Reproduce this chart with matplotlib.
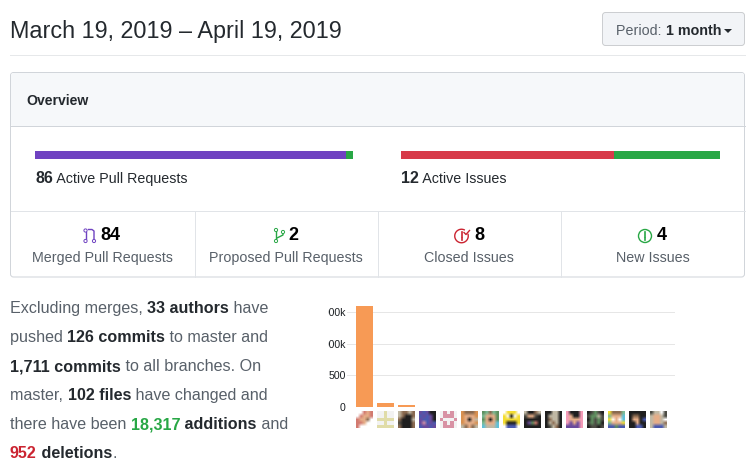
import matplotlib
matplotlib.use("Agg")
import matplotlib.pyplot as plt
from matplotlib.patches import FancyBboxPatch, Circle, Rectangle, Arc, Polygon
from matplotlib.colors import to_rgb
from matplotlib.transforms import Bbox
import numpy as np

W, H = 756, 469
plt.rcParams['font.family'] = ['Liberation Sans', 'DejaVu Sans']

# ---- data ----
title = "March 19, 2019 – April 19, 2019"
pr_segments = [84, 2]
issue_segments = [8, 4]
stat_values = ["84", "2", "8", "4"]
stat_labels = ["Merged Pull Requests", "Proposed Pull Requests", "Closed Issues", "New Issues"]
author_commits = [1595, 53, 22, 0, 0, 0, 0, 0, 0, 0, 0, 0, 0, 0, 0]
y_ticks = [0, 500, 1000, 1500]
y_tick_labels = ["0", "500", "1000k", "1000k"]
summary_lines = [
    [("Excluding merges, ", "n"), ("33 authors", "b"), (" have", "n")],
    [("pushed ", "n"), ("126 commits", "b"), (" to master and", "n")],
    [("1,711 commits", "b"), (" to all branches. On", "n")],
    [("master, ", "n"), ("102 files", "b"), (" have changed and", "n")],
    [("there have been ", "n"), ("18,317", "g"), (" additions", "b"), (" and", "n")],
    [("952", "r"), (" deletions", "b"), (".", "n")],
]
palette = dict(w="#f2f2f2", k="#1f1f1f", b="#8a6a50", s="#e6ae88", r="#d27a70", y="#f3dc30",
               p="#d892a4", l="#e0dca8", g="#5f9060", u="#4a5ab0", v="#6a4a9c", t="#7cbc96",
               m="#f49cb8", d="#4c4c44", n="#c0b8a4", c="#60c0d8", o="#d89050", W="#ffffff")
avatars = [
    ["WWrsr", "Wrssr", "rssbW", "rrsWW", "rWWWW"],
    ["wwlww", "wwlww", "lllll", "wwlww", "lllll"],
    ["nbbnb", "nbkkb", "bkkkn", "dkkkb", "bkkkb"],
    ["vuvkk", "uvuvk", "vuuvk", "vpuvu", "uvvuv"],
    ["wpwpw", "wpppw", "pwwwp", "wpwpw", "wpppw"],
    ["obbbo", "ossso", "osksn", "ossso", "nbsbn"],
    ["gtbtg", "tsssg", "gsksg", "tsssc", "cnnnc"],
    ["WyyyW", "yWkWy", "yyyyy", "ykkky", "WuuuW"],
    ["nkkbn", "dssdk", "kkkkk", "kvgrk", "kkkkk"],
    ["kknnk", "knnnk", "kbnnk", "knbnk", "kdnbk"],
    ["mkkkm", "mskkm", "msssm", "mvsvm", "vvvvm"],
    ["kdgdk", "dggnd", "kgdgd", "dgdgk", "kddkd"],
    ["ybbbt", "tsssc", "yWsWc", "tsssy", "uuguu"],
    ["kkkkk", "kbbkk", "kssku", "kkskk", "kkuuk"],
    ["dnnWd", "nssnd", "nssnW", "nssnb", "nuuun"],
]

INK = "#24292e"
GREY = "#586069"
BORDER = "#d1d5da"
LIGHT = "#e1e4e8"
PURPLE = "#6f42c1"
GREEN = "#28a745"
RED = "#cb2431"
BARRED = "#d73a49"
ORANGE = "#f79a55"
LW = 0.72  # one pixel, in points

fig = plt.figure(figsize=(W / 100, H / 100), dpi=100, facecolor="white")
bg = fig.add_axes([0, 0, 1, 1])
bg.set_xlim(0, W)
bg.set_ylim(H, 0)
bg.axis("off")


def axes_px(x0, y0, x1, y1, **kw):
    return fig.add_axes([x0 / W, 1 - y1 / H, (x1 - x0) / W, (y1 - y0) / H], **kw)


def px(v):
    return v * 0.72


renderer = fig.canvas.get_renderer()


def runs(x, y, items, size, normal=GREY, bold_size=None):
    styles = {"n": (normal, "normal"), "b": (INK, "bold"), "g": (GREEN, "bold"), "r": (RED, "bold")}
    for s, kind in items:
        col, wt = styles[kind]
        sz = bold_size if (bold_size and kind == "b") else size
        t = bg.text(x, y, s, fontsize=px(sz), color=col, fontweight=wt, va="baseline", ha="left")
        x += t.get_window_extent(renderer).width


# title & header rule
bg.text(9.5, 38, title, fontsize=px(23.4), color=INK, va="baseline")
bg.plot([10, 745], [55.5, 55.5], color="#e6e8ea", lw=LW)

# period button
bg.add_patch(FancyBboxPatch((602.5, 12.5), 142, 33, boxstyle="round,pad=0,rounding_size=3",
                            fc="#f2f4f7", ec="#ccced1", lw=LW))
runs(616, 35, [("Period: ", "n"), ("1 month", "b")], 14.3, bold_size=14.3)
bg.add_patch(Polygon([[724, 29], [732, 29], [728, 33]], closed=True, fc=INK, ec="none"))

# overview box
bg.add_patch(FancyBboxPatch((10.5, 72.5), 734, 204.5, boxstyle="round,pad=0,rounding_size=3",
                            fc="white", ec=BORDER, lw=LW, zorder=1))
bg.add_patch(FancyBboxPatch((11, 73), 733, 53, boxstyle="round,pad=0,rounding_size=2",
                            fc="#f6f8fa", ec="none", zorder=1.1))
bg.plot([10.5, 744.5], [126.5, 126.5], color=BORDER, lw=LW, zorder=1.2)
bg.text(26.5, 105, "Overview", fontsize=px(14), fontweight="bold", color=INK, va="baseline")
bg.plot([10.5, 744.5], [211.5, 211.5], color=LIGHT, lw=LW, zorder=1.2)
for xd in [194.5, 377.5, 560.5]:
    bg.plot([xd, xd], [211.5, 277], color=LIGHT, lw=LW, zorder=1.2)


def stacked(box, segs, colors):
    a = axes_px(*box)
    left = 0
    for v, c in zip(segs, colors):
        a.barh(0, v, left=left, height=1, color=c, linewidth=0)
        left += v
    a.set_xlim(0, sum(segs))
    a.set_ylim(-0.5, 0.5)
    a.axis("off")


stacked((35, 151, 353, 159), pr_segments, [PURPLE, GREEN])
stacked((401, 151, 720, 159), issue_segments, [BARRED, GREEN])
runs(35, 183, [(str(sum(pr_segments)), "b"), (" Active Pull Requests", "n")], 14.2, normal=INK, bold_size=16)
runs(401, 183, [(str(sum(issue_segments)), "b"), (" Active Issues", "n")], 14.2, normal=INK, bold_size=16)

# stat cells
centers = [102.5, 286, 469, 652.5]
num_x = [100, 288.5, 474.5, 657]
for c, nx, v, lab in zip(centers, num_x, stat_values, stat_labels):
    bg.text(nx, 240, v, fontsize=px(18), fontweight="bold", color="black", va="baseline", ha="left")
    bg.text(c, 262, lab, fontsize=px(14.3), color=GREY, va="baseline", ha="center")

# merged PR icon
for (cx, cy) in [(85.5, 230.5), (85.5, 241), (94, 241)]:
    bg.add_patch(Circle((cx, cy), 1.6, fc="white", ec=PURPLE, lw=0.7, zorder=3))
bg.plot([85.5, 85.5], [232, 239.5], color=PURPLE, lw=1.0, zorder=2)
bg.plot([94, 94, 92, 88.5], [239.5, 231, 229.5, 229.5], color=PURPLE, lw=1.0, zorder=2)
# proposed PR (branch) icon
for (cx, cy) in [(276, 230), (276, 241), (283, 232)]:
    bg.add_patch(Circle((cx, cy), 1.6, fc="white", ec=GREEN, lw=0.7, zorder=3))
bg.plot([276, 276], [231.5, 239.5], color=GREEN, lw=1.0, zorder=2)
bg.plot([283, 283, 277], [233.5, 235, 238], color=GREEN, lw=1.0, zorder=2)
# closed issue icon
bg.add_patch(Arc((461.5, 236), 13.5, 13.5, theta1=-20, theta2=300, ec=RED, lw=1.0, zorder=3))
bg.plot([461.5, 461.5], [232.5, 237], color=RED, lw=1.2, zorder=3)
bg.plot([461.5, 461.5], [238.5, 240], color=RED, lw=1.2, zorder=3)
bg.plot([464, 466, 469.5], [232.5, 234.5, 230.5], color=RED, lw=1.0, zorder=3)
# new issue icon
bg.add_patch(Circle((645, 236), 6.5, fc="none", ec=GREEN, lw=1.0, zorder=3))
bg.plot([645, 645], [232.5, 237], color=GREEN, lw=1.2, zorder=3)
bg.plot([645, 645], [238.5, 240], color=GREEN, lw=1.2, zorder=3)

# summary
base = [313, 342, 371, 400, 429, 458]
for yb, line in zip(base, summary_lines):
    runs(10, yb, line, 16.1)

# contributors chart
ax = axes_px(347, 306, 675, 407)
xs = np.arange(len(author_commits))
ax.set_facecolor("none")
ax.bar(xs, author_commits, width=17 / 21, color=ORANGE, linewidth=0, zorder=3)
ax.set_xlim((347 - 364.5) / 21, (675 - 364.5) / 21)
y_per_px = 500 / 31.5
ax.set_ylim(-0.5 * y_per_px, 100.5 * y_per_px)
ax.set_yticks(y_ticks)
ax.set_yticklabels(y_tick_labels, fontsize=px(10.5), color="#1b1f23")
ax.set_xticks([])
ax.tick_params(axis="y", length=0, pad=1)
ax.grid(axis="y", color="#e6e6e6", lw=LW, zorder=0)
for s in ax.spines.values():
    s.set_visible(False)
clip = Bbox([[328, 0], [W, H]])
for lab in ax.get_yticklabels():
    lab.set_clip_box(clip)
    lab.set_clip_on(True)

# avatars under the bars
for i, grid in enumerate(avatars):
    xd = ax.transData.transform((xs[i], 0))[0]
    a = axes_px(xd - 8.5, 411, xd + 8.5, 428)
    img = np.array([[to_rgb(palette[ch]) for ch in row] for row in grid])
    a.imshow(img, interpolation="bilinear" if i not in (1, 4) else "nearest", aspect="auto")
    a.axis("off")

fig.savefig("out.png", dpi=100, facecolor="white")
